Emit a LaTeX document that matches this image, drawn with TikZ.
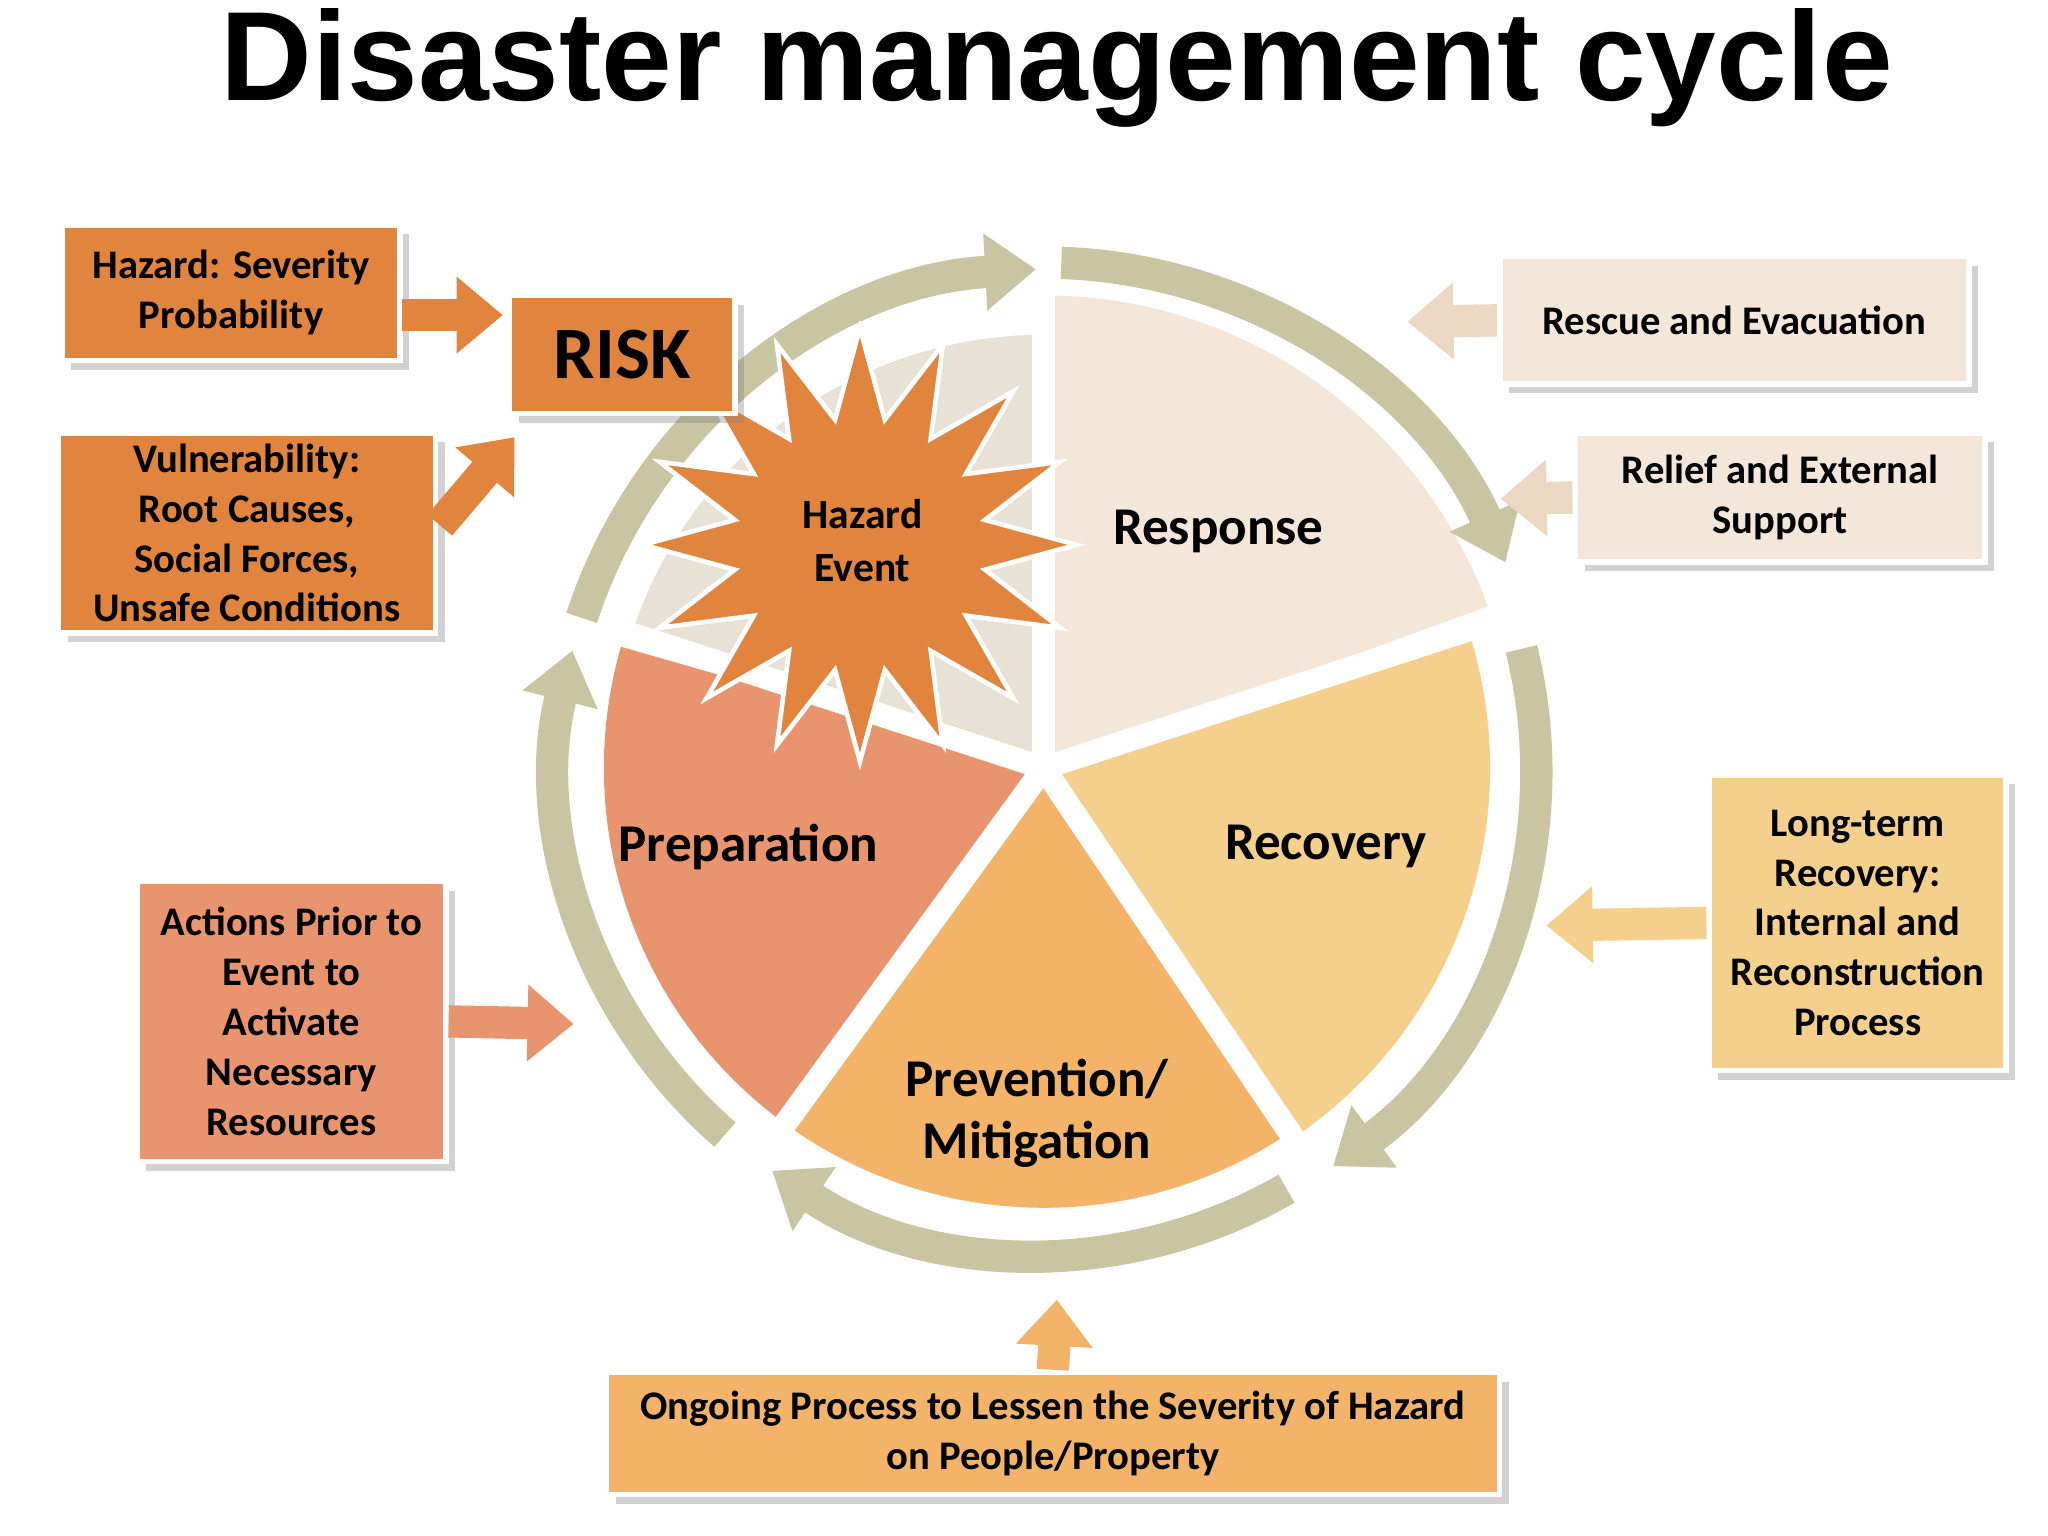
\documentclass[tikz,border=0pt]{standalone}
\usepackage{fontspec}
\setmainfont{Carlito}
\newfontfamily\titlefont{Liberation Sans}
\usetikzlibrary{shapes.geometric,arrows.meta,shadows}
\definecolor{dor}{HTML}{E0843E}
\definecolor{resp}{HTML}{F4E7DA}
\definecolor{reco}{HTML}{F5D08C}
\definecolor{prev}{HTML}{F3B46A}
\definecolor{prep}{HTML}{E8946E}
\definecolor{greyseg}{HTML}{E8E2D6}
\definecolor{ring}{HTML}{C9C4A2}
\begin{document}
\begin{tikzpicture}[x=0.01cm,y=0.01cm,
  box/.style={draw=white,line width=1.2pt,font=\bfseries\fontsize{8.8}{10.8}\selectfont,align=center,inner sep=2pt,drop shadow={opacity=0.35,shadow xshift=2pt,shadow yshift=-2pt}},
  seglabel/.style={font=\bfseries\fontsize{11.5}{13.5}\selectfont,align=center},
  ringarrow/.style={draw=ring,line width=7pt,-{Triangle[width=16pt,length=11pt]}},
  blockarrow/.style={line width=7pt,-{Triangle[width=16pt,length=10pt]}}]
\useasboundingbox (0,0) rectangle (1560,-1170);
\fill[white] (0,0) rectangle (1560,-1170);
\node[font=\titlefont\bfseries\fontsize{27.5}{31}\selectfont] (title) at (805,-52) {Disaster management cycle};
\coordinate (c) at (795,-585);
% sectors
\fill[greyseg] (c) -- ++(162:330) arc[start angle=162,end angle=90,radius=330] -- cycle;
\fill[resp] (c) -- ++(90:360) arc[start angle=90,end angle=20,radius=360] -- cycle;
\fill[reco] (c) -- ++(18:340) arc[start angle=18,end angle=-56,radius=340] -- cycle;
\fill[prev] (c) -- ++(-56:335) arc[start angle=-56,end angle=-126,radius=335] -- cycle;
\fill[prep] (c) -- ++(-126:335) arc[start angle=-126,end angle=-196,radius=335] -- cycle;
\foreach \a in {90,18,-56,-126,162} \draw[white,line width=5pt] (c) -- ++(\a:380);
% ring arrows
\draw[ringarrow] (c) ++(88:385) arc[start angle=88,end angle=24,radius=385];
\draw[ringarrow] (c) ++(14:375) arc[start angle=14,end angle=-54,radius=375];
\draw[ringarrow] (c) ++(-60:370) arc[start angle=-60,end angle=-124,radius=370];
\draw[ringarrow] (c) ++(-131:370) arc[start angle=-131,end angle=-194,radius=370];
\draw[ringarrow] (c) ++(-198:370) arc[start angle=-198,end angle=-267,radius=385];
% labels
\node[seglabel] (response) at (928,-405) {Response};
\node[seglabel] (recovery) at (1010,-645) {Recovery};
\node[seglabel] (prevention) at (790,-848) {Prevention/\\Mitigation};
\node[seglabel] (preparation) at (570,-645) {Preparation};
% star
\node[star,star points=16,star point ratio=1.7,minimum size=3.3cm,fill=dor,draw=white,line width=1pt,inner sep=0pt] (hazard) at (655,-415) {};
\node[font=\bfseries\fontsize{9}{11.5}\selectfont,align=center] (hazardtxt) at (657,-412) {Hazard\\Event};
% left boxes
\node[box,fill=dor,minimum width=2.57cm,minimum height=1.03cm] (sev) at (176,-223) {Hazard: Severity\\Probability};
\node[box,fill=dor,minimum width=1.72cm,minimum height=0.9cm,font=\bfseries\fontsize{16}{19}\selectfont] (risk) at (474,-270) {RISK};
\node[box,fill=dor,minimum width=2.87cm,minimum height=1.52cm] (vul) at (188,-406) {Vulnerability:\\Root Causes,\\Social Forces,\\Unsafe Conditions};
\node[box,fill=prep,minimum width=2.35cm,minimum height=2.13cm] (act) at (222,-778) {Actions Prior to\\Event to\\Activate\\Necessary\\Resources};
% right boxes
\node[box,fill=resp,minimum width=3.57cm,minimum height=0.97cm] (rescue) at (1321,-244) {Rescue and Evacuation};
\node[box,fill=resp,minimum width=3.12cm,minimum height=0.98cm] (relief) at (1356,-379) {Relief and External\\Support};
\node[box,fill=reco,minimum width=2.26cm,minimum height=2.25cm] (long) at (1415,-703) {Long-term\\Recovery:\\Internal and\\Reconstruction\\Process};
\node[box,fill=prev,minimum width=6.8cm,minimum height=0.93cm] (ongoing) at (802,-1092) {Ongoing Process to Lessen the Severity of Hazard\\on People/Property};
% block arrows
\coordinate (sevout) at (306,-240);
\coordinate (riskin) at (383,-240);
\coordinate (vulout) at (335,-400);
\coordinate (risklow) at (392,-333);
\coordinate (rescueto) at (1072,-245);
\coordinate (reliefto) at (1143,-380);
\coordinate (longto) at (1178,-705);
\coordinate (actto) at (437,-780);
\coordinate (ongoingto) at (805,-990);
\draw[blockarrow,dor] (sevout) -- (riskin);
\draw[blockarrow,dor] (vulout) -- (risklow);
\draw[blockarrow,resp!85!brown] (rescue.west) -- (rescueto);
\draw[blockarrow,resp!85!brown] (relief.west) -- (reliefto);
\draw[blockarrow,reco] (long.west) -- (longto);
\draw[blockarrow,prep] (act.east) -- (actto);
\draw[blockarrow,prev] (ongoing.north) -- (ongoingto);
\end{tikzpicture}
\end{document}
